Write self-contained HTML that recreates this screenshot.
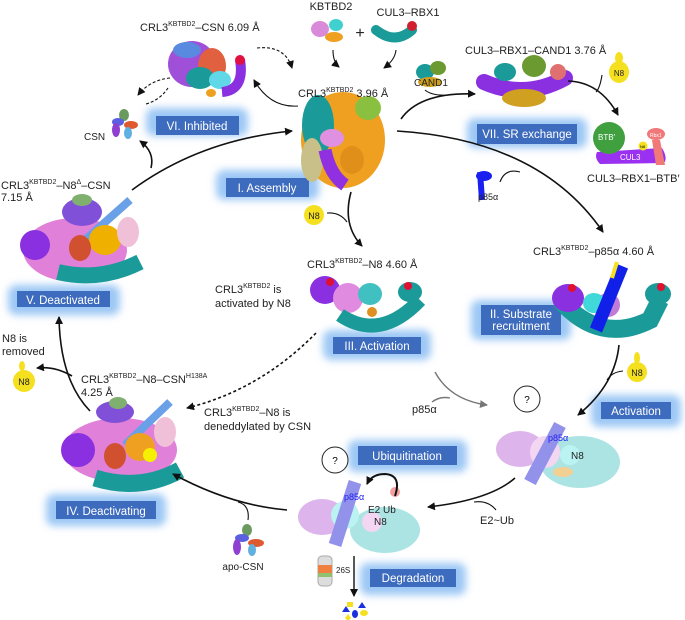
<!DOCTYPE html>
<html><head><meta charset="utf-8"><style>
html,body{margin:0;padding:0;background:#fff;}
svg{display:block;font-family:"Liberation Sans",sans-serif;}
.t{font-size:11px;fill:#222;}
.s{font-size:7px;}
.bt{font-size:11.5px;fill:#fff;}
</style></head><body>
<svg width="685" height="620" viewBox="0 0 685 620" xmlns="http://www.w3.org/2000/svg">
<defs>
<filter id="g" x="-30%" y="-60%" width="160%" height="220%"><feGaussianBlur stdDeviation="4"/></filter>
<marker id="a" markerWidth="8" markerHeight="8" refX="7" refY="4" orient="auto" markerUnits="userSpaceOnUse"><path d="M0,0 L8,4 L0,8 Z" fill="#111"/></marker>
<marker id="ag" markerWidth="8" markerHeight="8" refX="7" refY="4" orient="auto" markerUnits="userSpaceOnUse"><path d="M0,0 L8,4 L0,8 Z" fill="#777"/></marker>
</defs>

<g>
<rect x="146" y="108" width="102" height="28" rx="8" fill="#9cc7f5" filter="url(#g)"/>
<rect x="156" y="116" width="83" height="19" fill="#3d6bbd"/>
<text class="bt" x="197" y="130" text-anchor="middle">VI. Inhibited</text>

<rect x="216" y="170" width="103" height="30" rx="8" fill="#9cc7f5" filter="url(#g)"/>
<rect x="226" y="178" width="83" height="19" fill="#3d6bbd"/>
<text class="bt" x="267" y="192" text-anchor="middle">I. Assembly</text>

<rect x="467" y="118" width="120" height="30" rx="8" fill="#9cc7f5" filter="url(#g)"/>
<rect x="477" y="124" width="100" height="20" fill="#3d6bbd"/>
<text class="bt" x="527" y="138" text-anchor="middle">VII. SR exchange</text>

<rect x="8" y="285" width="112" height="30" rx="8" fill="#9cc7f5" filter="url(#g)"/>
<rect x="17" y="291" width="93" height="16" fill="#3d6bbd"/>
<text class="bt" x="63" y="304" text-anchor="middle">V. Deactivated</text>

<rect x="323" y="330" width="108" height="30" rx="8" fill="#9cc7f5" filter="url(#g)"/>
<rect x="333" y="337" width="88" height="17" fill="#3d6bbd"/>
<text class="bt" x="377" y="350" text-anchor="middle">III. Activation</text>

<rect x="471" y="300" width="100" height="40" rx="8" fill="#9cc7f5" filter="url(#g)"/>
<rect x="481" y="305" width="80" height="30" fill="#3d6bbd"/>
<text class="bt" x="521" y="318" text-anchor="middle">II. Substrate</text>
<text class="bt" x="521" y="330" text-anchor="middle">recruitment</text>

<rect x="591" y="395" width="90" height="32" rx="8" fill="#9cc7f5" filter="url(#g)"/>
<rect x="601" y="402" width="70" height="17" fill="#3d6bbd"/>
<text class="bt" x="636" y="415" text-anchor="middle">Activation</text>

<rect x="46" y="494" width="120" height="32" rx="8" fill="#9cc7f5" filter="url(#g)"/>
<rect x="56" y="501" width="100" height="18" fill="#3d6bbd"/>
<text class="bt" x="106" y="515" text-anchor="middle">IV. Deactivating</text>

<rect x="348" y="440" width="119" height="32" rx="8" fill="#9cc7f5" filter="url(#g)"/>
<rect x="358" y="446" width="99" height="19" fill="#3d6bbd"/>
<text class="bt" x="407" y="460" text-anchor="middle">Ubiquitination</text>

<rect x="360" y="563" width="106" height="32" rx="8" fill="#9cc7f5" filter="url(#g)"/>
<rect x="370" y="569" width="86" height="18" fill="#3d6bbd"/>
<text class="bt" x="413" y="582" text-anchor="middle">Degradation</text>
</g>

<!-- KBTBD2 -->
<g><ellipse cx="320" cy="29" rx="9" ry="8" fill="#d98ad8"/><ellipse cx="336" cy="25" rx="7" ry="6" fill="#40d0d0"/><ellipse cx="334" cy="37" rx="9" ry="5" fill="#f0a020"/></g>
<g><path d="M376,30 Q395,45 412,30" stroke="#1a9a98" stroke-width="10" fill="none" stroke-linecap="round"/><circle cx="412" cy="26" r="5" fill="#d02030"/></g>
<text class="t" x="331" y="10" text-anchor="middle">KBTBD2</text>
<text class="t" x="408" y="16" text-anchor="middle">CUL3–RBX1</text>
<text x="360" y="38" text-anchor="middle" style="font-size:16px" fill="#222">+</text>

<!-- CSN complex VI -->
<g><ellipse cx="192" cy="64" rx="24" ry="23" fill="#a050d8"/><ellipse cx="187" cy="50" rx="14" ry="8" fill="#5a8ae0"/><ellipse cx="212" cy="66" rx="14" ry="18" fill="#e06040"/><ellipse cx="200" cy="78" rx="14" ry="11" fill="#1a9a98"/><ellipse cx="220" cy="80" rx="11" ry="9" fill="#60d8e8"/><path d="M222,92 Q245,90 240,60" stroke="#8a30e0" stroke-width="10" fill="none"/><circle cx="240" cy="60" r="5" fill="#e01040"/><ellipse cx="211" cy="93" rx="5" ry="4" fill="#f0a020"/></g>
<text class="t" x="140" y="31">CRL3<tspan class="s" dy="-5">KBTBD2</tspan><tspan dy="5">–CSN  6.09 Å</tspan></text>
<g><ellipse cx="124" cy="115" rx="5" ry="6" fill="#6a9a60"/><ellipse cx="118" cy="122" rx="6" ry="4" fill="#5a60e0"/><ellipse cx="131" cy="125" rx="7" ry="4" fill="#e05a30"/><ellipse cx="116" cy="130" rx="4" ry="7" fill="#9040d0"/><ellipse cx="128" cy="133" rx="4" ry="6" fill="#60b0e0"/></g>
<text class="t" x="84" y="140" style="font-size:10px">CSN</text>

<!-- central -->
<g><ellipse cx="343" cy="140" rx="42" ry="48" fill="#f0a020"/><ellipse cx="318" cy="125" rx="16" ry="30" fill="#1a9a98"/><ellipse cx="368" cy="108" rx="13" ry="12" fill="#8ac040"/><ellipse cx="312" cy="160" rx="11" ry="22" fill="#c8c088"/><ellipse cx="332" cy="138" rx="12" ry="9" fill="#e090e0"/><path d="M325,150 Q330,175 345,185" stroke="#9030e0" stroke-width="13" fill="none"/><ellipse cx="352" cy="160" rx="12" ry="14" fill="#e0901a"/></g>
<text class="t" x="298" y="97">CRL3<tspan class="s" dy="-5">KBTBD2</tspan><tspan dy="5"> 3.96 Å</tspan></text>

<!-- CAND1 -->
<g><ellipse cx="425" cy="72" rx="9" ry="8" fill="#1a9a98"/><ellipse cx="438" cy="68" rx="8" ry="7" fill="#6a9a30"/><ellipse cx="430" cy="82" rx="12" ry="5" fill="#d0a020"/></g>
<text class="t" x="414" y="86" style="font-size:10px">CAND1</text>
<g><path d="M484,82 Q525,100 565,78" stroke="#8a30e0" stroke-width="16" fill="none" stroke-linecap="round"/><ellipse cx="505" cy="72" rx="11" ry="9" fill="#1a9a98"/><ellipse cx="534" cy="66" rx="12" ry="11" fill="#6a9a30"/><ellipse cx="558" cy="72" rx="8" ry="8" fill="#e07070"/><ellipse cx="524" cy="98" rx="22" ry="9" fill="#d0a020"/></g>
<text class="t" x="465" y="54">CUL3–RBX1–CAND1  3.76 Å</text>
<g fill="#f5e020"><ellipse cx="619" cy="72" rx="10" ry="11"/><ellipse cx="619" cy="58" rx="4" ry="6"/></g><text x="619" y="76" text-anchor="middle" style="font-size:8px" fill="#222">N8</text>
<g><path d="M597,152 L662,148 Q668,158 664,163 L600,164 Q594,158 597,152Z" fill="#9a30f0"/><ellipse cx="609" cy="138" rx="16" ry="16" fill="#40a040"/><path d="M652,140 L660,140 L665,165 L656,165Z" fill="#f07878"/><ellipse cx="656" cy="134" rx="9" ry="6" fill="#f07878"/><circle cx="643" cy="146" r="4.5" fill="#f5e020"/><text x="598" y="140" fill="#fff" style="font-size:8px">BTB′</text><text x="620" y="160" fill="#fff" style="font-size:8px">CUL3</text><text x="650" y="137" fill="#fff" style="font-size:5px">Rbx1</text><text x="640" y="148" style="font-size:4px">N8</text></g>
<text class="t" x="587" y="182">CUL3–RBX1–BTB′</text>

<g><path d="M480,172 L482,200" stroke="#1a20f0" stroke-width="6"/><ellipse cx="484" cy="176" rx="8" ry="5" fill="#1a20f0"/></g>
<text class="t" x="478" y="200" style="font-size:9px">p85α</text>

<!-- II molecule -->
<g><path d="M560,300 Q600,345 650,320 L660,300" stroke="#1a9a98" stroke-width="18" fill="none"/><ellipse cx="568" cy="298" rx="16" ry="14" fill="#8a30e0"/><ellipse cx="608" cy="305" rx="12" ry="12" fill="#c07ad8"/><ellipse cx="594" cy="303" rx="11" ry="10" fill="#40d8d8"/><path d="M596,330 L622,266" stroke="#1020e8" stroke-width="13"/><ellipse cx="658" cy="294" rx="13" ry="11" fill="#1a9a98"/><circle cx="661" cy="287" r="4" fill="#e01030"/><circle cx="572" cy="288" r="4" fill="#e01030"/><path d="M617,262 L612,278" stroke="#f5e020" stroke-width="4"/></g>
<text class="t" x="533" y="255">CRL3<tspan class="s" dy="-5">KBTBD2</tspan><tspan dy="5">–p85α 4.60 Å</tspan></text>
<g fill="#f5e020"><ellipse cx="637" cy="372" rx="10" ry="10"/><ellipse cx="637" cy="358" rx="3" ry="6"/></g><text x="637" y="376" text-anchor="middle" style="font-size:9px" fill="#222">N8</text>

<circle cx="527" cy="399" r="13" fill="#fff" stroke="#222"/><text x="527" y="403" text-anchor="middle" style="font-size:10px">?</text>
<circle cx="335" cy="460" r="13" fill="#fff" stroke="#222"/><text x="335" y="464" text-anchor="middle" style="font-size:10px">?</text>

<g opacity="0.85"><ellipse cx="580" cy="462" rx="40" ry="26" fill="#9ee0e0"/><ellipse cx="520" cy="449" rx="24" ry="18" fill="#d8a8e8"/><ellipse cx="545" cy="452" rx="15" ry="16" fill="#f0d0f0"/><path d="M530,482 L560,425" stroke="#8080e8" stroke-width="13"/><ellipse cx="570" cy="455" rx="10" ry="10" fill="#b0f0f0"/><ellipse cx="563" cy="472" rx="10" ry="5" fill="#f0c880"/></g>
<text x="548" y="441" style="font-size:9px" fill="#2020f0">p85α</text><text x="571" y="459" class="t" style="font-size:10px">N8</text>

<g opacity="0.85"><ellipse cx="385" cy="530" rx="35" ry="23" fill="#9ee0e0"/><ellipse cx="322" cy="517" rx="24" ry="18" fill="#d8a8e8"/><ellipse cx="345" cy="515" rx="14" ry="14" fill="#b0f0f0"/><path d="M335,545 L355,482" stroke="#8080e8" stroke-width="13"/><ellipse cx="372" cy="522" rx="10" ry="10" fill="#f0d0f0"/><ellipse cx="395" cy="492" rx="5" ry="5" fill="#f09090"/></g>
<text x="344" y="500" style="font-size:9px" fill="#2020f0">p85α</text>
<text class="t" x="368" y="513" style="font-size:10px">E2 Ub</text><text class="t" x="374" y="525" style="font-size:10px">N8</text>

<g><ellipse cx="247" cy="530" rx="5" ry="6" fill="#6a9a60"/><ellipse cx="242" cy="538" rx="7" ry="4" fill="#5a60e0"/><ellipse cx="256" cy="543" rx="8" ry="4" fill="#e05a30"/><ellipse cx="237" cy="547" rx="4" ry="8" fill="#9040d0"/><ellipse cx="252" cy="550" rx="4" ry="6" fill="#60b0e0"/></g>
<text class="t" x="243" y="570" text-anchor="middle" style="font-size:10px">apo-CSN</text>

<g><rect x="318" y="556" width="14" height="30" rx="4" fill="#ddd" stroke="#aaa"/><rect x="318" y="565" width="14" height="8" fill="#f08040"/><rect x="318" y="573" width="14" height="4" fill="#90c070"/></g>
<text x="336" y="573" style="font-size:8px" fill="#222">26S</text>
<g><rect x="347" y="602" width="6" height="5" fill="#f5e020"/><path d="M342,612 L346,606 L350,612Z" fill="#1a30e0"/><path d="M362,602 L366,608 L358,608Z" fill="#1a30e0"/><ellipse cx="355" cy="614" rx="3" ry="4" fill="#1a30e0"/><ellipse cx="364" cy="613" rx="4" ry="3" fill="#f5e020"/><path d="M348,614 L351,618 L348,621 L345,618Z" fill="#f5e020"/></g>

<!-- V molecule -->
<g><ellipse cx="75" cy="250" rx="52" ry="32" fill="#e080d8"/><ellipse cx="35" cy="245" rx="15" ry="15" fill="#8a30e0"/><ellipse cx="82" cy="212" rx="20" ry="14" fill="#8050d8"/><ellipse cx="82" cy="200" rx="10" ry="6" fill="#80b070"/><path d="M85,240 L130,200" stroke="#6aa0e8" stroke-width="8"/><ellipse cx="105" cy="240" rx="16" ry="15" fill="#f0b000"/><ellipse cx="80" cy="248" rx="11" ry="13" fill="#d05030"/><path d="M58,272 Q100,282 140,262" stroke="#1a9a98" stroke-width="16" fill="none"/><ellipse cx="128" cy="232" rx="11" ry="15" fill="#f0c0d8"/></g>
<text class="t" x="1" y="189">CRL3<tspan class="s" dy="-5">KBTBD2</tspan><tspan dy="5">–N8</tspan><tspan class="s" dy="-5">Δ</tspan><tspan dy="5">–CSN</tspan></text>
<text class="t" x="1" y="201">7.15 Å</text>

<text class="t" x="2" y="342">N8 is</text><text class="t" x="2" y="355">removed</text>
<g fill="#f5e020"><ellipse cx="24" cy="381" rx="11" ry="11"/><ellipse cx="22" cy="366" rx="3" ry="5"/></g><text x="24" y="385" text-anchor="middle" style="font-size:9px" fill="#222">N8</text>

<!-- III molecule -->
<g><ellipse cx="325" cy="290" rx="15" ry="14" fill="#8a30e0"/><ellipse cx="348" cy="298" rx="15" ry="15" fill="#e08ae0"/><ellipse cx="370" cy="294" rx="12" ry="11" fill="#40c0c0"/><path d="M340,315 Q380,342 420,300" stroke="#1a9a98" stroke-width="14" fill="none"/><ellipse cx="410" cy="292" rx="12" ry="10" fill="#1a9a98"/><circle cx="408" cy="286" r="4" fill="#e01030"/><circle cx="330" cy="282" r="4" fill="#e01030"/><ellipse cx="372" cy="312" rx="5" ry="5" fill="#e09020"/></g>
<text class="t" x="307" y="268">CRL3<tspan class="s" dy="-5">KBTBD2</tspan><tspan dy="5">–N8 4.60 Å</tspan></text>
<g fill="#f5e020"><ellipse cx="314" cy="215" rx="10" ry="10"/></g><text x="314" y="219" text-anchor="middle" style="font-size:9px" fill="#222">N8</text>
<text class="t" x="215" y="293">CRL3<tspan class="s" dy="-5">KBTBD2</tspan><tspan dy="5"> is</tspan></text>
<text class="t" x="215" y="307">activated by N8</text>

<!-- IV molecule -->
<g><ellipse cx="120" cy="450" rx="57" ry="32" fill="#e080d8"/><ellipse cx="78" cy="450" rx="17" ry="17" fill="#8a30e0"/><ellipse cx="115" cy="412" rx="19" ry="11" fill="#8050d8"/><ellipse cx="118" cy="403" rx="9" ry="6" fill="#80b070"/><path d="M125,445 L170,402" stroke="#6aa0e8" stroke-width="8"/><ellipse cx="140" cy="447" rx="15" ry="14" fill="#f0a020"/><ellipse cx="115" cy="456" rx="11" ry="13" fill="#d05030"/><circle cx="150" cy="455" r="7" fill="#f5f000"/><path d="M95,478 Q140,492 180,470" stroke="#1a9a98" stroke-width="17" fill="none"/><ellipse cx="165" cy="432" rx="11" ry="15" fill="#f0c0d8"/></g>
<text class="t" x="81" y="383">CRL3<tspan class="s" dy="-5">KBTBD2</tspan><tspan dy="5">–N8–CSN</tspan><tspan class="s" dy="-5">H138A</tspan></text>
<text class="t" x="81" y="396">4.25 Å</text>
<text class="t" x="204" y="416">CRL3<tspan class="s" dy="-5">KBTBD2</tspan><tspan dy="5">–N8 is</tspan></text>
<text class="t" x="204" y="430">deneddylated by CSN</text>
<text class="t" x="412" y="413">p85α</text>
<text class="t" x="480" y="524">E2~Ub</text>

<g fill="none" stroke="#111" stroke-width="1.1">
<path d="M333,50 Q333,62 339,67" marker-end="url(#a)"/>
<path d="M396,50 Q395,60 384,68" marker-end="url(#a)"/>
<path d="M257,48 Q285,45 292,68" stroke-dasharray="3,2" marker-end="url(#a)"/>
<path d="M170,78 Q150,80 138,95" stroke-dasharray="3,2" marker-end="url(#a)"/>
<path d="M146,104 Q160,100 168,88" stroke-dasharray="3,2"/>
<path d="M298,106 Q270,108 254,80" marker-end="url(#a)"/>
<path d="M401,119 Q420,92 475,94" stroke-width="1.6" marker-end="url(#a)"/>
<path d="M425,90 Q432,96 448,95"/>
<path d="M568,81 Q600,82 618,115" stroke-width="1.6" marker-end="url(#a)"/>
<path d="M602,75 Q600,88 596,92"/>
<path d="M397,131 Q540,140 603,232" stroke-width="1.6" marker-end="url(#a)"/>
<path d="M500,182 Q505,168 520,172"/>
<path d="M351,192 Q342,225 362,246" stroke-width="1.6" marker-end="url(#a)"/>
<path d="M327,213 Q340,212 347,222"/>
<path d="M132,190 Q200,140 292,131" stroke-width="1.6" marker-end="url(#a)"/>
<path d="M151,168 Q155,152 140,141" stroke-width="1.6" marker-end="url(#a)"/>
<path d="M90,411 Q60,380 59,317" stroke-width="1.6" marker-end="url(#a)"/>
<path d="M72,376 Q55,366 37,368" stroke-width="1.6" marker-end="url(#a)"/>
<path d="M316,333 Q260,390 187,408" stroke-width="1.6" stroke-dasharray="3,2.5" marker-end="url(#a)"/>
<path d="M435,372 Q450,400 487,405" stroke="#777" stroke-width="1.4" marker-end="url(#ag)"/>
<path d="M432,402 Q440,396 450,398" stroke="#777" stroke-width="1.4"/>
<path d="M619,345 Q615,385 578,415" stroke-width="1.6" marker-end="url(#a)"/>
<path d="M623,371 Q612,372 607,380"/>
<path d="M515,478 Q490,500 428,507" stroke-width="1.6" marker-end="url(#a)"/>
<path d="M496,510 Q488,500 474,502"/>
<path d="M395,496 Q402,475 385,474 Q372,474 367,484" stroke-width="2" marker-end="url(#a)"/>
<path d="M287,510 Q230,505 173,474" stroke-width="1.6" marker-end="url(#a)"/>
<path d="M248,520 Q250,505 238,502"/>
<path d="M354,556 L354,596" stroke-width="1.4" marker-end="url(#a)"/>
</g>
</svg>
</body></html>
